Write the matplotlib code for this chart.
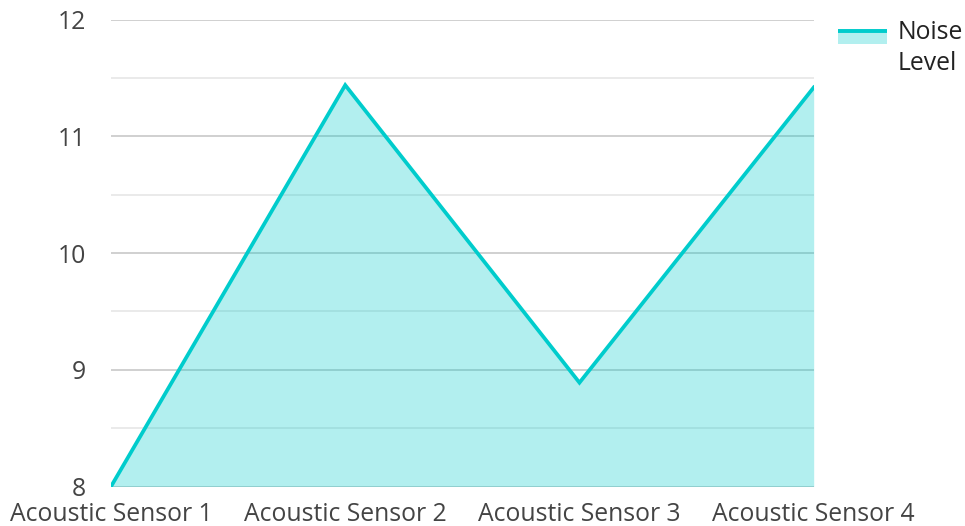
import matplotlib
matplotlib.use("Agg")
import matplotlib.pyplot as plt
from matplotlib.patches import Rectangle
from matplotlib.lines import Line2D
from matplotlib.legend_handler import HandlerBase

sensors = ["Acoustic Sensor 1", "Acoustic Sensor 2", "Acoustic Sensor 3", "Acoustic Sensor 4"]
noise_level = [8.0, 11.44, 8.89, 11.42]
y_ticks = [8, 9, 10, 11, 12]
y_minor = [8.5, 9.5, 10.5, 11.5]

line_color = "#00cccc"

plt.rcParams["font.family"] = ["Open Sans", "DejaVu Sans"]


class AreaHandler(HandlerBase):
    # filled box with the line along its top edge, level with the first text line
    def create_artists(self, legend, orig_handle, xdescent, ydescent, width, height, fontsize, trans):
        top = -ydescent + height + 8
        box = Rectangle((-xdescent, top - 10.5), width, 10.5, facecolor=line_color,
                        alpha=0.3, linewidth=0, transform=trans)
        ln = Line2D([-xdescent, -xdescent + width], [top - 1.5, top - 1.5], color=line_color,
                    lw=2.8, transform=trans, solid_capstyle="butt")
        return [box, ln]


fig = plt.figure(figsize=(9.65, 5.26), dpi=100)
ax = fig.add_axes([111 / 965, 1 - 486.5 / 526, (813.7 - 111) / 965, (486.5 - 19.8) / 526])

x = list(range(len(sensors)))
ax.fill_between(x, noise_level, 8, color=line_color, alpha=0.3, linewidth=0, zorder=2)
ax.plot(x, noise_level, color=line_color, lw=2.7, zorder=3, solid_joinstyle="miter")

ax.set_xlim(0, len(sensors) - 1)
ax.set_ylim(8, 12)
ax.set_xticks(x)
ax.set_xticklabels(sensors)
ax.set_yticks(y_ticks)
ax.set_yticks(y_minor, minor=True)
ax.grid(which="major", axis="y", color="#c8c8c8", lw=1.2, zorder=1)
ax.grid(which="minor", axis="y", color="#e6e6e6", lw=1.2, zorder=1)
ax.grid(which="major", axis="x", visible=False)
ax.set_axisbelow(True)
for s in ax.spines.values():
    s.set_visible(False)
ax.tick_params(axis="y", which="both", length=0, pad=18, labelsize=17.8, labelcolor="#444444")
ax.tick_params(axis="x", length=0, pad=11, labelsize=17.8, labelcolor="#444444")

leg = fig.legend([Rectangle((0, 0), 1, 1)], ["Noise\nLevel"], handler_map={Rectangle: AreaHandler()},
                 loc="upper left", bbox_to_anchor=(838 / 965, 1 - 20 / 526), frameon=False,
                 borderpad=0, borderaxespad=0, handlelength=2.0, handletextpad=0.4,
                 fontsize=17.8, labelcolor="#222222")
leg.get_texts()[0].set_linespacing(1.3)

fig.savefig("out.png", dpi=100)
